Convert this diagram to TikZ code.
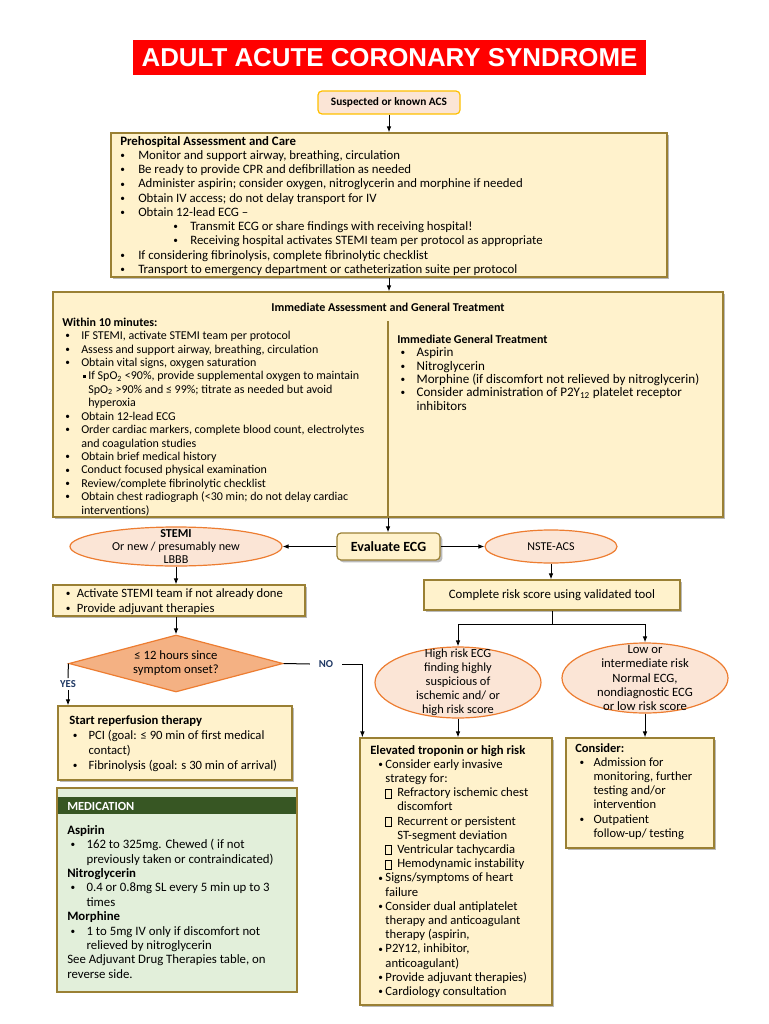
\documentclass[tikz,border=0pt]{standalone}
\usepackage{fontspec}
\setmainfont{Carlito}
\newfontfamily\titlefont{Liberation Sans}
\usetikzlibrary{shapes.geometric,fit,shadows,arrows.meta}

\definecolor{boxfill}{HTML}{FFF2CC}
\definecolor{boxline}{HTML}{9A8034}
\definecolor{peach}{HTML}{FBE5D6}
\definecolor{orangeline}{HTML}{ED7D31}
\definecolor{diafill}{HTML}{F4B183}
\definecolor{susline}{HTML}{FFC000}
\definecolor{medfill}{HTML}{E2EFDA}
\definecolor{medhead}{HTML}{375623}
\definecolor{navy}{HTML}{1F3864}
\definecolor{titlered}{HTML}{FF0000}

\newcommand{\bdot}{\raisebox{0.15ex}{\fontsize{7}{7}\selectfont\textbullet}}
\newcommand{\bu}[1]{\makebox[#1][l]{\bdot}}
\newcommand{\sqbul}{\raisebox{0.3ex}{\rule{2.2pt}{2.2pt}}}
\newcommand{\emptybox}{\raisebox{-0.15ex}{\setlength\fboxsep{0pt}\setlength\fboxrule{0.35pt}\fbox{\rule{0pt}{6.5pt}\hspace{4pt}}}}

\tikzset{
  box/.style={draw=boxline, fill=boxfill, line width=0.9pt, inner sep=0pt,
    drop shadow={shadow xshift=1.8pt, shadow yshift=-1.8pt, opacity=0.45, fill=black!60}},
  oval/.style={ellipse, draw=orangeline, fill=peach, line width=0.9pt, inner sep=0pt},
  txt/.style={anchor=north west, inner sep=0pt, align=left},
  arr/.style={-{Latex[length=4.5pt,width=3.5pt]}, line width=0.75pt},
  link/.style={line width=0.75pt},
  yesno/.style={font=\bfseries\fontsize{8}{9}\selectfont, text=navy},
}

\begin{document}
\begin{tikzpicture}[x=0.75pt,y=-0.75pt]
\useasboundingbox (0,0) rectangle (768,1024);

% title and start
\node[minimum width=384.75pt, minimum height=26.25pt, inner sep=0pt, fill=titlered, text=white,
  font=\titlefont\bfseries\fontsize{19.4}{22}\selectfont] (title) at (389.5,57.5) {ADULT ACUTE CORONARY SYNDROME};
\node[minimum width=106.5pt, minimum height=17.25pt, draw=susline, fill=peach, rounded corners=3pt, line width=0.9pt,
  inner sep=0pt, font=\bfseries\fontsize{8.5}{10}\selectfont] (sus) at (389,102.5) {Suspected or known ACS};

% prehospital
\node[box, fit={(111,133)(667,277)}] (pre) {};
\node[txt, font=\fontsize{9.6}{10.67}\selectfont] (pretxt) at (120,136) {\textbf{Prehospital Assessment and Care}\\
\bu{13.5pt}Monitor and support airway, breathing, circulation\\
\bu{13.5pt}Be ready to provide CPR and defibrillation as needed\\
\bu{13.5pt}Administer aspirin; consider oxygen, nitroglycerin and morphine if needed\\
\bu{13.5pt}Obtain IV access; do not delay transport for IV\\
\bu{13.5pt}Obtain 12-lead ECG –\\
\hspace*{39.75pt}\bu{12.75pt}Transmit ECG or share findings with receiving hospital!\\
\hspace*{39.75pt}\bu{12.75pt}Receiving hospital activates STEMI team per protocol as appropriate\\
\bu{13.5pt}If considering fibrinolysis, complete fibrinolytic checklist\\
\bu{13.5pt}Transport to emergency department or catheterization suite per protocol};

% immediate assessment
\node[box, fit={(53,292)(723,517)}] (imm) {};
\node[inner sep=0pt, font=\bfseries\fontsize{9}{10}\selectfont] (immhead) at (388,307) {Immediate Assessment and General Treatment};
\draw[boxline, line width=0.9pt] (imm.south) -- ++(0,-197);
\node[txt, font=\fontsize{9}{10.07}\selectfont] (immleft) at (62,317.5) {\textbf{Within 10 minutes:}\\
\hspace*{2.25pt}\bu{12pt}IF STEMI, activate STEMI team per protocol\\
\hspace*{2.25pt}\bu{12pt}Assess and support airway, breathing, circulation\\
\hspace*{2.25pt}\bu{12pt}Obtain vital signs, oxygen saturation\\
\hspace*{15.75pt}\makebox[3.8pt][l]{\sqbul}If SpO\textsubscript{2} <90\%, provide supplemental oxygen to maintain\\
\hspace*{19.55pt}SpO\textsubscript{2} >90\% and ≤ 99\%; titrate as needed but avoid\\
\hspace*{19.55pt}hyperoxia\\
\hspace*{2.25pt}\bu{12pt}Obtain 12-lead ECG\\
\hspace*{2.25pt}\bu{12pt}Order cardiac markers, complete blood count, electrolytes\\
\hspace*{14.25pt}and coagulation studies\\
\hspace*{2.25pt}\bu{12pt}Obtain brief medical history\\
\hspace*{2.25pt}\bu{12pt}Conduct focused physical examination\\
\hspace*{2.25pt}\bu{12pt}Review/complete fibrinolytic checklist\\
\hspace*{2.25pt}\bu{12pt}Obtain chest radiograph (<30 min; do not delay cardiac\\
\hspace*{14.25pt}interventions)};
\node[txt, font=\fontsize{9.8}{10.07}\selectfont] (immright) at (397,334.5) {\textbf{\fontsize{9}{10.07}\selectfont Immediate General Treatment}\\
\hspace*{2.5pt}\bu{12pt}Aspirin\\
\hspace*{2.5pt}\bu{12pt}Nitroglycerin\\
\hspace*{2.5pt}\bu{12pt}Morphine (if discomfort not relieved by nitroglycerin)\\
\hspace*{2.5pt}\bu{12pt}Consider administration of P2Y\textsubscript{12} platelet receptor\\
\hspace*{14.5pt}inhibitors};

% ECG split
\node[box, rounded corners=3pt, minimum width=77.25pt, minimum height=20.25pt,
  font=\bfseries\fontsize{10.5}{12}\selectfont] (ecg) at (388.5,546.5) {Evaluate ECG};
\node[oval, minimum width=159pt, minimum height=29.25pt] (stemi) at (176,546.5) {};
\node[align=center, inner sep=0pt, font=\fontsize{9.1}{10.1}\selectfont] (stemitxt) at (stemi) {\textbf{STEMI}\\Or new / presumably new\\LBBB};
\node[oval, minimum width=99pt, minimum height=24.75pt, font=\fontsize{9}{10}\selectfont] (nste) at (551,546.5) {NSTE-ACS};

% STEMI branch
\node[box, fit={(53,585)(305,616)}] (act) {};
\node[txt, font=\fontsize{9.5}{11.25}\selectfont] (acttxt) at (65.5,588) {\bu{8.25pt}Activate STEMI team if not already done\\
\bu{8.25pt}Provide adjuvant therapies};
\node[diamond, draw=orangeline, fill=diafill, line width=0.9pt, minimum width=160.5pt,
  minimum height=42.75pt, inner sep=0pt, aspect=3.75] (dia) at (176,663.5) {};
\node[align=center, inner sep=0pt, font=\fontsize{9.5}{10.5}\selectfont] (diatxt) at (dia) {≤ 12 hours since\\symptom onset?};
\node[yesno, inner sep=1.5pt] (yes) at (68,684) {YES};
\node[yesno, inner xsep=6.5pt, inner ysep=0pt] (no) at (326,664) {NO};
\node[box, fit={(58,706)(292,780)}] (rep) {};
\node[txt, font=\fontsize{9.5}{11.25}\selectfont] (reptxt) at (69,715) {\textbf{Start reperfusion therapy}\\
\hspace*{2.75pt}\bu{11.75pt}PCI (goal: ≤ 90 min of first medical\\
\hspace*{14.5pt}contact)\\
\hspace*{2.75pt}\bu{11.75pt}Fibrinolysis (goal: s 30 min of arrival)};

% medication
\node[fit={(57,788)(297,992)}, draw=boxline, fill=medfill, line width=0.9pt, inner sep=0pt] (med) {};
\node[fit={(57.6,797)(296.4,814)}, fill=medhead, inner sep=0pt] (medhd) {};
\node[anchor=west, inner sep=0pt, text=white, font=\bfseries\fontsize{9.3}{11}\selectfont] (medlbl) at (67,806) {MEDICATION};
\node[txt, font=\fontsize{9.6}{10.8}\selectfont] (medtxt) at (67,825) {\textbf{Aspirin}\\
\hspace*{2.5pt}\bu{12pt}162 to 325mg. Chewed ( if not\\
\hspace*{14.5pt}previously taken or contraindicated)\\
\textbf{Nitroglycerin}\\
\hspace*{2.5pt}\bu{12pt}0.4 or 0.8mg SL every 5 min up to 3\\
\hspace*{14.5pt}times\\
\textbf{Morphine}\\
\hspace*{2.5pt}\bu{12pt}1 to 5mg IV only if discomfort not\\
\hspace*{14.5pt}relieved by nitroglycerin\\
See Adjuvant Drug Therapies table, on\\
reverse side.};

% NSTE-ACS branch
\node[box, minimum width=192pt, minimum height=22.5pt, font=\fontsize{9.6}{11}\selectfont] (risk) at (552,595) {Complete risk score using validated tool};
\node[oval, minimum width=124.5pt, minimum height=53.25pt] (high) at (458,682.5) {};
\node[align=center, inner sep=0pt, font=\fontsize{9.3}{10.5}\selectfont] (hightxt) at (high) {High risk ECG\\finding highly\\suspicious of\\ischemic and/ or\\high risk score};
\node[oval, minimum width=124.5pt, minimum height=52.5pt] (low) at (645,678) {};
\node[align=center, inner sep=0pt, font=\fontsize{9.5}{10.6}\selectfont] (lowtxt) at (low) {Low or\\intermediate risk\\Normal ECG,\\nondiagnostic ECG\\or low risk score};
\node[box, fit={(360,738)(552,1005)}] (elev) {};
\node[txt, font=\fontsize{9.5}{10.65}\selectfont] (elevtxt) at (370,745) {\textbf{Elevated troponin or high risk}\\
\hspace*{6pt}\bu{5.4pt}Consider early invasive\\
\hspace*{11.4pt}strategy for:\\
\hspace*{11.25pt}\makebox[9pt][l]{\emptybox}Refractory ischemic chest\\
\hspace*{20.25pt}discomfort\\
\hspace*{11.25pt}\makebox[9pt][l]{\emptybox}Recurrent or persistent\\
\hspace*{20.25pt}ST-segment deviation\\
\hspace*{11.25pt}\makebox[9pt][l]{\emptybox}Ventricular tachycardia\\
\hspace*{11.25pt}\makebox[9pt][l]{\emptybox}Hemodynamic instability\\
\hspace*{6pt}\bu{5.4pt}Signs/symptoms of heart\\
\hspace*{11.4pt}failure\\
\hspace*{6pt}\bu{5.4pt}Consider dual antiplatelet\\
\hspace*{11.4pt}therapy and anticoagulant\\
\hspace*{11.4pt}therapy (aspirin,\\
\hspace*{6pt}\bu{5.4pt}P2Y12, inhibitor,\\
\hspace*{11.4pt}anticoagulant)\\
\hspace*{6pt}\bu{5.4pt}Provide adjuvant therapies)\\
\hspace*{6pt}\bu{5.4pt}Cardiology consultation};
\node[box, fit={(566,738)(714,848)}] (cons) {};
\node[txt, font=\fontsize{9.4}{10.65}\selectfont] (constxt) at (575,743) {\textbf{Consider:}\\
\hspace*{3.25pt}\bu{10.5pt}Admission for\\
\hspace*{13.75pt}monitoring, further\\
\hspace*{13.75pt}testing and/or\\
\hspace*{13.75pt}intervention\\
\hspace*{3.25pt}\bu{10.5pt}Outpatient\\
\hspace*{13.75pt}follow-up/ testing};

% connectors
\draw[arr] (sus.south) -- (pre.north);
\draw[arr] (pre.south) -- (pre.south |- imm.north);
\draw[arr] (imm.south) -- (imm.south |- ecg.north);
\draw[arr] (ecg.west) -- (stemi.east);
\draw[arr] (ecg.east) -- (nste.west);
\draw[arr] (stemi.south) -- (stemi.south |- act.north);
\draw[arr] (act.south -| dia.north) -- (dia.north);
\draw[link] (dia.west) -- (yes.north);
\draw[arr] (yes.south) -- (yes.south |- rep.north);
\draw[link] (dia.east) -- (no.west);
\draw[arr] (no.east) -| ([xshift=2.25pt]elev.north west);
\draw[arr] (nste.south) -- (nste.south |- risk.north);
\draw[link] (risk.south) -- ++(0,14) coordinate (split);
\draw[arr] (split) -| (high.north);
\draw[arr] (split) -| (low.north);
\draw[arr] (high.south) -- (high.south |- elev.north);
\draw[arr] (low.south) -- (low.south |- cons.north);
\end{tikzpicture}
\end{document}
